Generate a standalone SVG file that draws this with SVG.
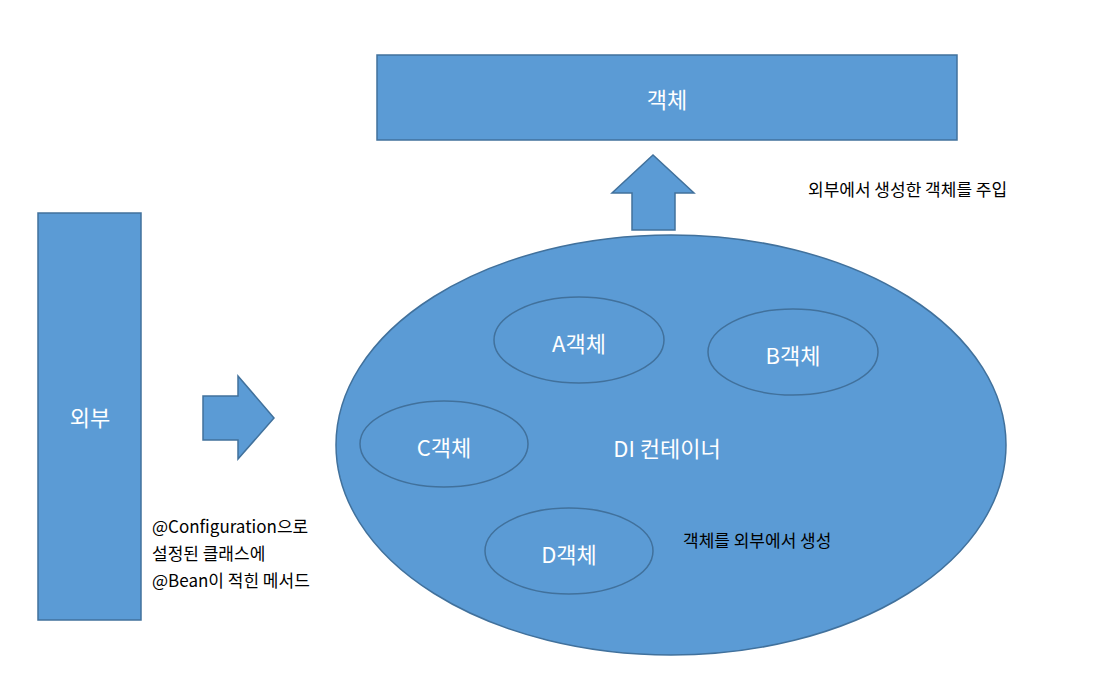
<svg xmlns="http://www.w3.org/2000/svg" width="1118" height="684" viewBox="0 0 1118 684">
<style>
.s{fill:#5B9BD5;stroke:#41719C;stroke-width:1.5}
.w{fill:#fff;font-family:"Noto Sans CJK KR","Noto Sans",sans-serif;font-size:22px;text-anchor:middle;dominant-baseline:central}
.b{fill:#000;font-family:"Noto Sans CJK KR","Noto Sans",sans-serif;font-size:17px}
</style>
<rect width="1118" height="684" fill="#fff"/>
<g id="top"><rect class="s" x="377" y="55" width="580" height="85"/><text class="w" x="667" y="98">객체</text></g>
<g id="left"><rect class="s" x="38" y="213" width="103" height="407"/><text class="w" x="90" y="416">외부</text></g>
<g id="container"><ellipse class="s" cx="671" cy="445" rx="335" ry="210"/><text class="w" x="667" y="447">DI 컨테이너</text></g>
<g id="A"><ellipse class="s" cx="579" cy="340" rx="85" ry="43"/><text class="w" x="579" y="342">A객체</text></g>
<g id="B"><ellipse class="s" cx="793" cy="352" rx="85" ry="43"/><text class="w" x="793" y="354">B객체</text></g>
<g id="C"><ellipse class="s" cx="444" cy="444" rx="84" ry="43"/><text class="w" x="444" y="446">C객체</text></g>
<g id="D"><ellipse class="s" cx="569" cy="551" rx="84" ry="43"/><text class="w" x="569" y="553">D객체</text></g>
<g id="connectors">
<polygon class="s" points="632,230 632,193 612,193 653,155 694,193 675,193 675,230"/>
<polygon class="s" points="203,396 238,396 238,376 274,418 238,459 238,440 203,440"/>
</g>
<text class="b" x="808" y="196">외부에서 생성한 객체를 주입</text>
<text class="b" x="683" y="547">객체를 외부에서 생성</text>
<text class="b" x="152" y="533">@Configuration으로</text>
<text class="b" x="152" y="560">설정된 클래스에</text>
<text class="b" x="152" y="587">@Bean이 적힌 메서드</text>
</svg>
